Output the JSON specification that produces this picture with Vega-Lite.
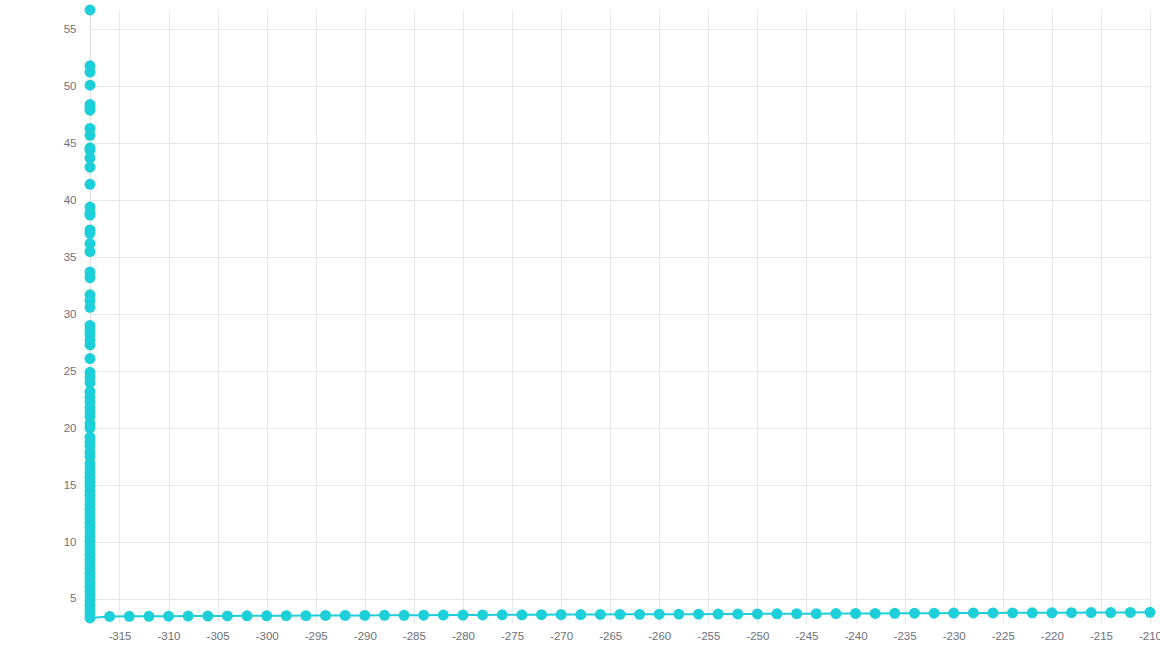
{
  "$schema": "https://vega.github.io/schema/vega-lite/v6.json",
  "width": 1060,
  "height": 608,
  "autosize": {"type": "none"},
  "padding": {"top": 10, "left": 90, "right": 10, "bottom": 40},
  "background": "#ffffff",
  "config": {
    "view": {"stroke": null},
    "axis": {
      "labelFont": "Liberation Sans",
      "labelFontSize": 11.5,
      "labelColor": "#6e7079",
      "gridColor": "#e6e8ee",
      "gridWidth": 1,
      "title": null,
      "labelExpr": "toString(datum.value)"
    }
  },
  "datasets": {
    "cluster": [
      {"x": -318, "y": 56.7}, {"x": -318, "y": 51.8}, {"x": -318, "y": 51.25}, {"x": -318, "y": 50.1},
      {"x": -318, "y": 48.4}, {"x": -318, "y": 48.2}, {"x": -318, "y": 47.9}, {"x": -318, "y": 46.3},
      {"x": -318, "y": 45.7}, {"x": -318, "y": 44.6}, {"x": -318, "y": 44.4}, {"x": -318, "y": 43.7},
      {"x": -318, "y": 42.9}, {"x": -318, "y": 41.4}, {"x": -318, "y": 39.4}, {"x": -318, "y": 38.9},
      {"x": -318, "y": 38.7}, {"x": -318, "y": 37.4}, {"x": -318, "y": 37.1}, {"x": -318, "y": 36.2},
      {"x": -318, "y": 35.5}, {"x": -318, "y": 33.7}, {"x": -318, "y": 33.2}, {"x": -318, "y": 31.7},
      {"x": -318, "y": 31.2}, {"x": -318, "y": 30.6}, {"x": -318, "y": 29.0}, {"x": -318, "y": 28.6},
      {"x": -318, "y": 28.2}, {"x": -318, "y": 27.7}, {"x": -318, "y": 27.3}, {"x": -318, "y": 26.1},
      {"x": -318, "y": 24.9}, {"x": -318, "y": 24.5}, {"x": -318, "y": 24.0}, {"x": -318, "y": 23.2},
      {"x": -318, "y": 22.7}, {"x": -318, "y": 22.3}, {"x": -318, "y": 21.8}, {"x": -318, "y": 21.4},
      {"x": -318, "y": 21.0}, {"x": -318, "y": 20.4}, {"x": -318, "y": 20.0}, {"x": -318, "y": 19.2},
      {"x": -318, "y": 18.8}, {"x": -318, "y": 18.4}, {"x": -318, "y": 17.9}, {"x": -318, "y": 17.5},
      {"x": -318, "y": 16.9}, {"x": -318, "y": 16.5}, {"x": -318, "y": 16.1}, {"x": -318, "y": 15.7},
      {"x": -318, "y": 15.3}, {"x": -318, "y": 14.9}, {"x": -318, "y": 14.5}, {"x": -318, "y": 14.1},
      {"x": -318, "y": 13.7}, {"x": -318, "y": 13.3}, {"x": -318, "y": 12.9}, {"x": -318, "y": 12.5},
      {"x": -318, "y": 12.1}, {"x": -318, "y": 11.7}, {"x": -318, "y": 11.3}, {"x": -318, "y": 10.9},
      {"x": -318, "y": 10.5}, {"x": -318, "y": 10.1}, {"x": -318, "y": 9.7}, {"x": -318, "y": 9.3},
      {"x": -318, "y": 8.9}, {"x": -318, "y": 8.5}, {"x": -318, "y": 8.1}, {"x": -318, "y": 7.7},
      {"x": -318, "y": 7.3}, {"x": -318, "y": 6.9}, {"x": -318, "y": 6.5}, {"x": -318, "y": 6.1},
      {"x": -318, "y": 5.7}, {"x": -318, "y": 5.3}, {"x": -318, "y": 4.9}, {"x": -318, "y": 4.5},
      {"x": -318, "y": 4.1}, {"x": -318, "y": 3.7}
    ],
    "curve": [
      {"x": -318, "y": 3.33}, {"x": -316, "y": 3.47}, {"x": -314, "y": 3.48}, {"x": -312, "y": 3.48},
      {"x": -310, "y": 3.49}, {"x": -308, "y": 3.5}, {"x": -306, "y": 3.5}, {"x": -304, "y": 3.51},
      {"x": -302, "y": 3.52}, {"x": -300, "y": 3.52}, {"x": -298, "y": 3.53}, {"x": -296, "y": 3.54},
      {"x": -294, "y": 3.55}, {"x": -292, "y": 3.55}, {"x": -290, "y": 3.56}, {"x": -288, "y": 3.57},
      {"x": -286, "y": 3.57}, {"x": -284, "y": 3.58}, {"x": -282, "y": 3.59}, {"x": -280, "y": 3.59},
      {"x": -278, "y": 3.6}, {"x": -276, "y": 3.61}, {"x": -274, "y": 3.61}, {"x": -272, "y": 3.62},
      {"x": -270, "y": 3.63}, {"x": -268, "y": 3.63}, {"x": -266, "y": 3.64}, {"x": -264, "y": 3.65},
      {"x": -262, "y": 3.65}, {"x": -260, "y": 3.66}, {"x": -258, "y": 3.67}, {"x": -256, "y": 3.67},
      {"x": -254, "y": 3.68}, {"x": -252, "y": 3.69}, {"x": -250, "y": 3.69}, {"x": -248, "y": 3.7},
      {"x": -246, "y": 3.71}, {"x": -244, "y": 3.71}, {"x": -242, "y": 3.72}, {"x": -240, "y": 3.73},
      {"x": -238, "y": 3.73}, {"x": -236, "y": 3.74}, {"x": -234, "y": 3.75}, {"x": -232, "y": 3.75},
      {"x": -230, "y": 3.76}, {"x": -228, "y": 3.77}, {"x": -226, "y": 3.77}, {"x": -224, "y": 3.78},
      {"x": -222, "y": 3.79}, {"x": -220, "y": 3.79}, {"x": -218, "y": 3.8}, {"x": -216, "y": 3.81},
      {"x": -214, "y": 3.81}, {"x": -212, "y": 3.82}, {"x": -210, "y": 3.83}
    ]
  },
  "encoding": {
    "x": {
      "field": "x",
      "type": "quantitative",
      "scale": {"domain": [-318, -210], "nice": false, "zero": false},
      "axis": {
        "values": [-315, -310, -305, -300, -295, -290, -285, -280, -275, -270, -265, -260, -255, -250, -245, -240, -235, -230, -225, -220, -215, -210],
        "domain": false,
        "ticks": true,
        "tickSize": 5,
        "tickColor": "#e6e8ee",
        "labelPadding": 7,
        "labelFlush": false
      }
    },
    "y": {
      "field": "y",
      "type": "quantitative",
      "scale": {"domain": [3.33, 56.7], "nice": false, "zero": false},
      "axis": {
        "values": [5, 10, 15, 20, 25, 30, 35, 40, 45, 50, 55],
        "domain": true,
        "domainColor": "#e0e0e0",
        "ticks": false,
        "labelPadding": 14
      }
    }
  },
  "layer": [
    {
      "data": {"name": "curve"},
      "mark": {"type": "line", "color": "#1ccfd8", "strokeWidth": 2, "clip": false}
    },
    {
      "data": {"name": "cluster"},
      "mark": {"type": "circle", "color": "#1ccfd8", "opacity": 1, "size": 120, "clip": false}
    },
    {
      "data": {"name": "curve"},
      "mark": {"type": "circle", "color": "#1ccfd8", "opacity": 1, "size": 120, "clip": false}
    }
  ]
}
